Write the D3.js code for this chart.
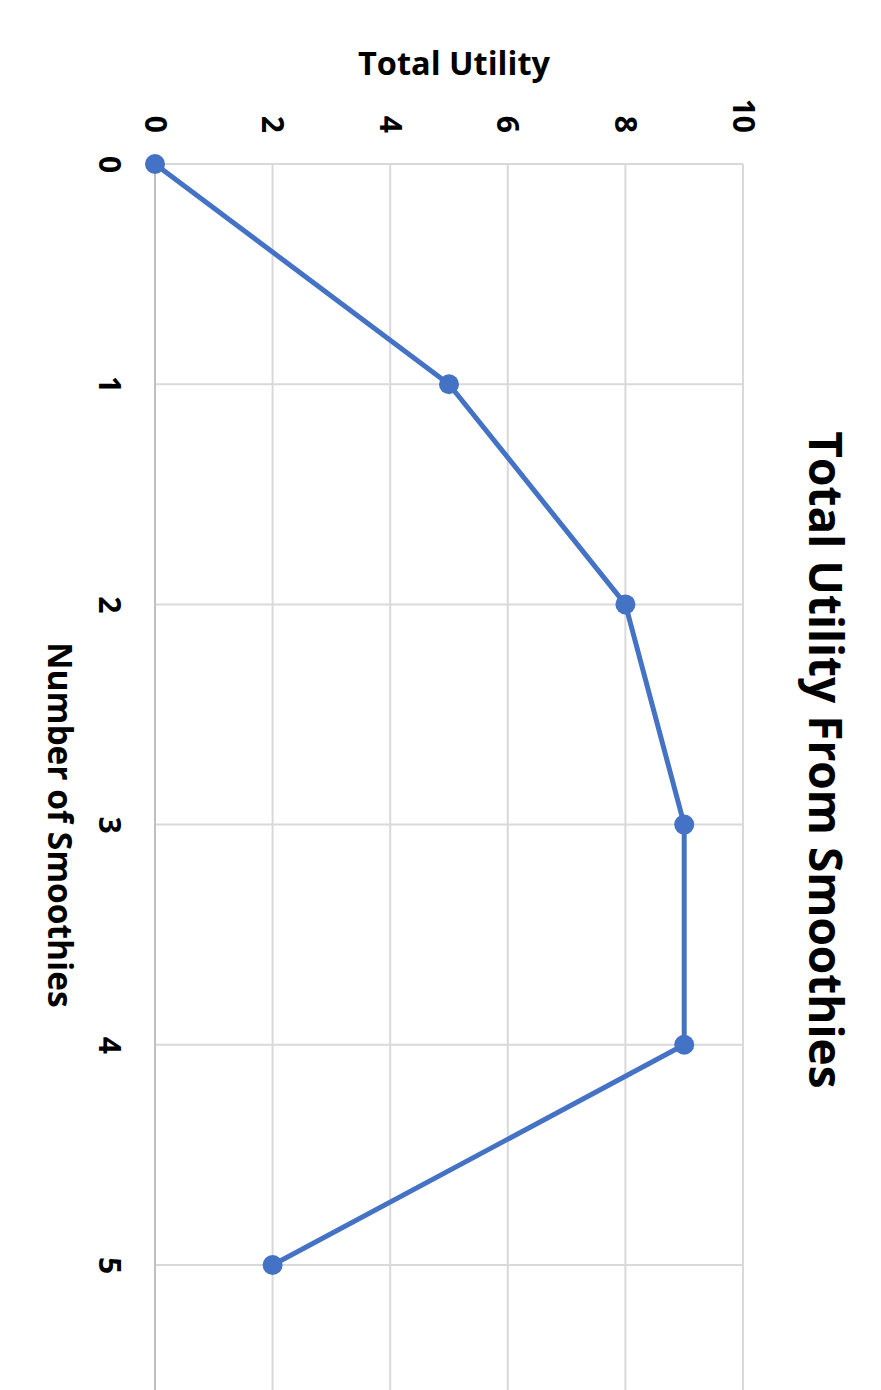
<!DOCTYPE html>
<html><head><meta charset="utf-8">
<script src="https://cdn.jsdelivr.net/npm/d3@7"></script>
<style>body{margin:0;background:#fff}svg{display:block}text{font-family:"Open Sans",sans-serif;font-weight:bold;fill:#000}</style>
</head><body>
<script>
const categories = [0, 1, 2, 3, 4, 5];
const values = [0, 5, 8, 9, 9, 2];
const valueTicks = [0, 2, 4, 6, 8, 10];
const title = "Total Utility From Smoothies";
const valueTitle = "Total Utility";
const categoryTitle = "Number of Smoothies";

const W = 881, H = 1390;
const svg = d3.select("body").append("svg").attr("width", W).attr("height", H);

const x = d3.scaleLinear().domain([0, 10]).range([155, 743]);
const y = d3.scaleLinear().domain([0, 5]).range([164, 1265]);
const yEnd = 1395;

// vertical gridlines (value)
svg.append("g").selectAll("line").data(valueTicks.filter(d => d > 0)).join("line")
  .attr("x1", d => x(d)).attr("x2", d => x(d)).attr("y1", y(0)).attr("y2", yEnd)
  .attr("stroke", "#d9d9d9").attr("stroke-width", 2);
// horizontal gridlines (categories)
svg.append("g").selectAll("line").data(categories).join("line")
  .attr("x1", x(0)).attr("x2", x(10)).attr("y1", d => y(d)).attr("y2", d => y(d))
  .attr("stroke", "#d9d9d9").attr("stroke-width", 2);
// category axis line
svg.append("line").attr("x1", x(0)).attr("x2", x(0)).attr("y1", y(0)).attr("y2", yEnd)
  .attr("stroke", "#bfbfbf").attr("stroke-width", 2);

const tickStyle = sel => sel.style("font-size", "30px").style("font-family", "'Open Sans',sans-serif")
  .style("font-weight", "bold").attr("fill", "#000");

// value axis labels (top, rotated)
const ax = svg.append("g").attr("transform", `translate(0,${y(0)})`)
  .call(d3.axisTop(x).tickValues(valueTicks).tickSize(0).tickFormat(d3.format("d")));
ax.select(".domain").remove();
ax.selectAll("text").attr("x", 0).attr("y", 0).attr("dy", "0.36em")
  .attr("text-anchor", "end").attr("transform", "translate(0,-31) rotate(90)").call(tickStyle);

// category axis labels (left, rotated)
const ay = svg.append("g").attr("transform", `translate(${x(0)},0)`)
  .call(d3.axisLeft(y).tickValues(categories).tickSize(0).tickFormat(d3.format("d")));
ay.select(".domain").remove();
ay.selectAll("text").attr("x", 0).attr("y", 0).attr("dy", "0.36em")
  .attr("text-anchor", "middle").attr("transform", "translate(-45,0) rotate(90)").call(tickStyle);

// line
const line = d3.line().x((d, i) => x(values[i])).y((d, i) => y(categories[i]));
svg.append("path").datum(categories).attr("d", line)
  .attr("fill", "none").attr("stroke", "#4472c4").attr("stroke-width", 5).attr("stroke-linejoin", "round");
svg.append("g").selectAll("circle").data(categories).join("circle")
  .attr("cx", (d, i) => x(values[i])).attr("cy", d => y(d)).attr("r", 10).attr("fill", "#4472c4");

// titles
svg.append("text").attr("x", 454).attr("y", 75).attr("text-anchor", "middle")
  .style("font-size", "32.5px").text(valueTitle);
svg.append("text").attr("transform", "translate(60,825) rotate(90)").attr("dy", "0.36em").attr("text-anchor", "middle")
  .style("font-size", "33.5px").text(categoryTitle);
svg.append("text").attr("transform", "translate(826,760) rotate(90)").attr("dy", "0.36em").attr("text-anchor", "middle")
  .style("font-size", "46px").text(title);
</script>
</body></html>
